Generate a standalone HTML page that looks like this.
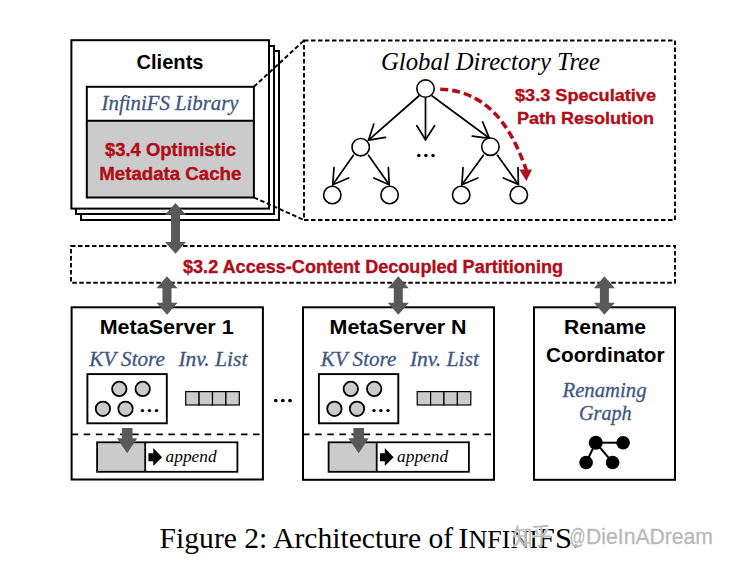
<!DOCTYPE html>
<html><head><meta charset="utf-8">
<style>
html,body{margin:0;padding:0;background:#fff;width:732px;height:566px;overflow:hidden}
svg{display:block}
.sb{font-family:"Liberation Sans",sans-serif;font-weight:bold}
.si{font-family:"Liberation Serif",serif;font-style:italic}
.sr{font-family:"Liberation Serif",serif}
</style></head>
<body>
<svg width="732" height="566" viewBox="0 0 732 566">
<defs>
  <g id="dbl">
    <!-- double arrow centered at x=0, top tip 0, bottom tip 38 -->
    <path d="M0,0 L10.5,12 L4.5,12 L4.5,26.5 L10.5,26.5 L0,38.5 L-10.5,26.5 L-4.5,26.5 L-4.5,12 L-10.5,12 Z" fill="#595959"/>
  </g>
</defs>

<!-- ===== Clients stack ===== -->
<rect x="81" y="51" width="198" height="169" fill="#fff" stroke="#000" stroke-width="2"/>
<rect x="76" y="46" width="198" height="168" fill="#fff" stroke="#000" stroke-width="2"/>
<rect x="71.4" y="40.2" width="197.6" height="168.4" fill="#fff" stroke="#000" stroke-width="2"/>
<text class="sb" x="136.5" y="68.7" font-size="21" textLength="67" lengthAdjust="spacingAndGlyphs">Clients</text>
<rect x="86.8" y="120.7" width="167.1" height="76.8" fill="#cbcbcb"/>
<rect x="86.8" y="86.8" width="167.1" height="110.7" fill="none" stroke="#000" stroke-width="2"/>
<line x1="86.8" y1="120.7" x2="253.9" y2="120.7" stroke="#000" stroke-width="2"/>
<text class="si" x="101.6" y="110" font-size="20" fill="#42557f" stroke="#42557f" stroke-width="0.3" textLength="137" lengthAdjust="spacingAndGlyphs">InfiniFS Library</text>
<text class="sb" x="105" y="155.5" font-size="18" fill="#b00d19" stroke="#b00d19" stroke-width="0.35" textLength="131" lengthAdjust="spacingAndGlyphs">$3.4 Optimistic</text>
<text class="sb" x="99.3" y="180" font-size="18" fill="#b00d19" stroke="#b00d19" stroke-width="0.35" textLength="142" lengthAdjust="spacingAndGlyphs">Metadata Cache</text>

<!-- dashed connectors -->
<line x1="253.9" y1="86.8" x2="304" y2="40.5" stroke="#000" stroke-width="1.9" stroke-dasharray="4.5,2.5"/>
<line x1="253.9" y1="197.5" x2="304" y2="220" stroke="#000" stroke-width="1.9" stroke-dasharray="4.5,2.5"/>

<!-- ===== Tree box ===== -->
<rect x="304" y="40.5" width="371" height="179.5" fill="none" stroke="#000" stroke-width="1.9" stroke-dasharray="4.5,2.5"/>
<text class="si" x="381" y="70" font-size="25.5" textLength="219" lengthAdjust="spacingAndGlyphs">Global Directory Tree</text>

<g stroke="#000" stroke-width="1.7" fill="none" stroke-linecap="round" stroke-linejoin="round">
  <line x1="418.8" y1="96" x2="368.5" y2="140.2"/>
  <path d="M373.8,124 L368.5,140.2 L385.5,137.4"/>
  <line x1="432.2" y1="96" x2="489.4" y2="138.3"/>
  <path d="M482.6,121.9 L489.4,138.3 L472.3,136.2"/>
  <line x1="425.5" y1="98" x2="425.5" y2="139.8"/>
  <path d="M416.8,125.7 L425.5,139.8 L434.6,125.7"/>
  <line x1="353.4" y1="155.3" x2="332.7" y2="184.8"/>
  <path d="M334,167.6 L332.7,184.8 L348.6,178"/>
  <line x1="368.5" y1="155.3" x2="389.2" y2="184.8"/>
  <path d="M388.4,167.6 L389.2,184.8 L373.8,178"/>
  <line x1="483.4" y1="155.3" x2="461.9" y2="184.8"/>
  <path d="M463,167.6 L461.9,184.8 L477.8,178"/>
  <line x1="497.4" y1="155.3" x2="518.4" y2="184.4"/>
  <path d="M518,167.6 L518.4,184.4 L503.3,178"/>
</g>
<g stroke="#000" stroke-width="1.6" fill="#fff">
  <circle cx="425.5" cy="88.6" r="8.7"/>
  <circle cx="360.7" cy="147.2" r="8.7"/>
  <circle cx="490.4" cy="146.7" r="8.7"/>
  <circle cx="332.3" cy="195" r="8.7"/>
  <circle cx="389.6" cy="195" r="8.7"/>
  <circle cx="461.2" cy="195" r="8.7"/>
  <circle cx="518.8" cy="195" r="8.7"/>
</g>
<g fill="#000">
  <circle cx="418.8" cy="155.5" r="1.75"/><circle cx="425.9" cy="155.5" r="1.75"/><circle cx="433" cy="155.5" r="1.75"/>
</g>
<!-- red dashed arc -->
<path d="M440.2,89.2 C495.8,90.9 516,141.6 526.3,170" fill="none" stroke="#b00d19" stroke-width="3.6" stroke-dasharray="8,4"/>
<path d="M519.3,169.5 L532,169.5 L526.4,181 Z" fill="#b00d19"/>
<text class="sb" x="515" y="100.8" font-size="17" fill="#b00d19" stroke="#b00d19" stroke-width="0.35" textLength="141" lengthAdjust="spacingAndGlyphs">$3.3 Speculative</text>
<text class="sb" x="517" y="123.7" font-size="17" fill="#b00d19" stroke="#b00d19" stroke-width="0.35" textLength="137" lengthAdjust="spacingAndGlyphs">Path Resolution</text>

<!-- ===== Partition bar ===== -->
<rect x="71" y="246" width="604" height="36.8" fill="none" stroke="#000" stroke-width="1.9" stroke-dasharray="4.5,2.5"/>
<text class="sb" x="183" y="273" font-size="18" fill="#b00d19" stroke="#b00d19" stroke-width="0.35" textLength="380" lengthAdjust="spacingAndGlyphs">$3.2 Access-Content Decoupled Partitioning</text>

<!-- ===== Server boxes ===== -->
<rect x="71.6" y="307.3" width="191.3" height="172.2" fill="#fff" stroke="#000" stroke-width="2"/>
<rect x="303" y="307.3" width="191" height="172.5" fill="#fff" stroke="#000" stroke-width="2"/>
<rect x="534" y="307.3" width="141" height="172.5" fill="#fff" stroke="#000" stroke-width="2"/>

<!-- arrows -->
<path d="M175.5,203 L186,214.8 L180,214.8 L180,242 L186,242 L175.5,253.7 L165,242 L171,242 L171,214.8 L165,214.8 Z" fill="#595959"/>
<use href="#dbl" x="167" y="276.3"/>
<use href="#dbl" x="398.3" y="276.3"/>
<use href="#dbl" x="604.4" y="276.3"/>

<!-- MetaServer 1 -->
<g id="ms">
<text class="si" x="89.3" y="366" font-size="20" fill="#42557f" stroke="#42557f" stroke-width="0.3" textLength="75.5" lengthAdjust="spacingAndGlyphs">KV Store</text>
<text class="si" x="178.4" y="366" font-size="20" fill="#42557f" stroke="#42557f" stroke-width="0.3" textLength="69" lengthAdjust="spacingAndGlyphs">Inv. List</text>
<rect x="87.4" y="374.1" width="79.4" height="49.2" fill="#fff" stroke="#000" stroke-width="1.9"/>
<g fill="#cbcbcb" stroke="#000" stroke-width="1.8">
  <circle cx="119.3" cy="388.9" r="7.2"/>
  <circle cx="142.7" cy="388.9" r="7.2"/>
  <circle cx="102.9" cy="408.8" r="7.2"/>
  <circle cx="125.5" cy="408.8" r="7.2"/>
</g>
<g fill="#000"><circle cx="142.5" cy="410.6" r="1.7"/><circle cx="149.4" cy="410.6" r="1.7"/><circle cx="156.5" cy="410.6" r="1.7"/></g>
<g fill="#cbcbcb" stroke="#000" stroke-width="1.2">
  <rect x="185.7" y="391.6" width="13.4" height="13.4"/>
  <rect x="199.1" y="391.6" width="13.4" height="13.4"/>
  <rect x="212.5" y="391.6" width="13.4" height="13.4"/>
  <rect x="225.9" y="391.6" width="13.4" height="13.4"/>
</g>
<line x1="71.6" y1="434.3" x2="262" y2="434.3" stroke="#000" stroke-width="1.7" stroke-dasharray="6.5,5.6"/>
<rect x="97.1" y="442.3" width="48.1" height="29.5" fill="#cbcbcb"/>
<rect x="97.1" y="442.3" width="140.3" height="29.5" fill="none" stroke="#000" stroke-width="1.8"/>
<line x1="145.2" y1="442.3" x2="145.2" y2="471.8" stroke="#000" stroke-width="1.8"/>
<path d="M121.9,428.1 L132.5,428.1 L132.5,438.3 L137.2,438.3 L127.2,453.3 L116.9,438.3 L121.9,438.3 Z" fill="#595959"/>
<path d="M148.4,453.3 L153.3,453.3 L153.3,448.1 L162.1,457.2 L153.3,466.1 L153.3,461.2 L148.4,461.2 Z" fill="#000"/>
<text class="si" x="165.6" y="461.7" font-size="17" fill="#000" textLength="51" lengthAdjust="spacingAndGlyphs">append</text>
</g>
<text class="sb" x="99.7" y="334" font-size="21" textLength="134" lengthAdjust="spacingAndGlyphs">MetaServer 1</text>

<!-- MetaServer N -->
<use href="#ms" x="231.5" y="0"/>
<text class="sb" x="329.6" y="334" font-size="21" textLength="137" lengthAdjust="spacingAndGlyphs">MetaServer N</text>
<g fill="#000"><circle cx="275.7" cy="400.5" r="1.85"/><circle cx="282.8" cy="400.5" r="1.85"/><circle cx="290" cy="400.5" r="1.85"/></g>

<!-- Rename coordinator -->
<text class="sb" x="564" y="334" font-size="21" textLength="82" lengthAdjust="spacingAndGlyphs">Rename</text>
<text class="sb" x="546" y="361.6" font-size="21" textLength="118.6" lengthAdjust="spacingAndGlyphs">Coordinator</text>
<text class="si" x="562.5" y="397" font-size="20" fill="#42557f" stroke="#42557f" stroke-width="0.3" textLength="84" lengthAdjust="spacingAndGlyphs">Renaming</text>
<text class="si" x="579" y="420.1" font-size="20" fill="#42557f" stroke="#42557f" stroke-width="0.3" textLength="52.6" lengthAdjust="spacingAndGlyphs">Graph</text>
<g stroke="#000" stroke-width="2">
  <line x1="595.8" y1="442.7" x2="623.1" y2="442.7"/>
  <line x1="595.8" y1="442.7" x2="586.1" y2="462.5"/>
  <line x1="595.8" y1="442.7" x2="612.6" y2="462.5"/>
</g>
<g fill="#000">
  <circle cx="595.8" cy="442.7" r="7"/>
  <circle cx="623.1" cy="442.7" r="6.8"/>
  <circle cx="586.1" cy="462.5" r="6.8"/>
  <circle cx="612.6" cy="462.5" r="6.8"/>
</g>

<!-- caption -->
<text class="sr" x="159.6" y="548.3" font-size="29" textLength="293.5" lengthAdjust="spacingAndGlyphs">Figure 2: Architecture of</text>
<text class="sr" x="458.3" y="548.3" font-size="29" textLength="121.5" lengthAdjust="spacingAndGlyphs">I<tspan font-size="24.5">NFINI</tspan>FS.</text>
<!-- watermark -->
<g font-family="Liberation Sans" stroke="#fff" stroke-width="1.2" fill="#fff" opacity="0.75">
<text x="512.5" y="544" font-size="23" textLength="39" lengthAdjust="spacingAndGlyphs">知乎</text>
<text x="569.5" y="544" font-size="22" textLength="16" lengthAdjust="spacingAndGlyphs">@</text>
<text x="586" y="544" font-size="22.5" textLength="127" lengthAdjust="spacingAndGlyphs">DieInADream</text>
</g>
<g font-family="Liberation Sans" fill="#b9b9b9" stroke="#b9b9b9" stroke-width="0.3">
<text x="512.5" y="544" font-size="23" textLength="39" lengthAdjust="spacingAndGlyphs">知乎</text>
<text x="569.5" y="544" font-size="22" textLength="16" lengthAdjust="spacingAndGlyphs">@</text>
<text x="586" y="544" font-size="22.5" textLength="127" lengthAdjust="spacingAndGlyphs">DieInADream</text>
</g>
</svg>
</body></html>
